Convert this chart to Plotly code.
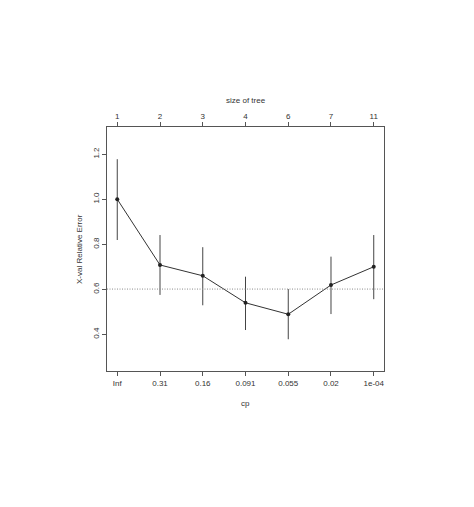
import plotly.graph_objects as go

# Data
cp_labels = ["Inf", "0.31", "0.16", "0.091", "0.055", "0.02", "1e-04"]
tree_sizes = ["1", "2", "3", "4", "6", "7", "11"]
xerror = [1.000, 0.708, 0.660, 0.540, 0.489, 0.619, 0.700]
err_upper = [1.178, 0.841, 0.787, 0.656, 0.601, 0.745, 0.841]
err_lower = [0.819, 0.575, 0.529, 0.419, 0.378, 0.490, 0.556]
min_line = 0.601
y_ticks = [0.4, 0.6, 0.8, 1.0, 1.2]

xpos = list(range(1, len(cp_labels) + 1))
plus = [u - v for u, v in zip(err_upper, xerror)]
minus = [v - l for v, l in zip(xerror, err_lower)]

font = dict(family="Liberation Sans, Arial, sans-serif", size=8, color="#333333")
axcol = "#555555"

fig = go.Figure()
fig.add_trace(go.Scatter(
    x=xpos, y=xerror, mode="lines+markers",
    line=dict(color="#333333", width=1),
    marker=dict(color="#222222", size=4),
    error_y=dict(type="data", symmetric=False, array=plus, arrayminus=minus,
                 color="#444444", thickness=1, width=0),
    showlegend=False, hoverinfo="skip",
))
fig.add_trace(go.Scatter(x=xpos, y=xerror, xaxis="x2", mode="markers",
                         marker=dict(opacity=0), showlegend=False, hoverinfo="skip"))
fig.add_hline(y=min_line, line=dict(color="#8a8a8a", width=1, dash="1px,1.5px"))

xr = [1 - 0.24, len(xpos) + 0.24]
fig.update_layout(
    width=474, height=507,
    margin=dict(l=99, r=98, t=119, b=144),
    paper_bgcolor="white", plot_bgcolor="white",
    font=font,
    xaxis=dict(range=xr, tickvals=xpos, ticktext=cp_labels, ticks="outside",
               ticklen=4, tickcolor=axcol, showline=True, linecolor=axcol,
               mirror=True, showgrid=False, zeroline=False, tickfont=font),
    xaxis2=dict(range=xr, tickvals=xpos, ticktext=tree_sizes, ticks="outside",
                ticklen=4, tickcolor=axcol, overlaying="x", side="top",
                showline=False, showgrid=False, zeroline=False, tickfont=font),
    yaxis=dict(range=[0.237, 1.321], tickvals=y_ticks,
               ticktext=[f"{v:.1f}" for v in y_ticks], ticks="outside",
               ticklen=4, tickcolor=axcol, showline=True, linecolor=axcol,
               mirror=True, showgrid=False, zeroline=False, tickangle=-90,
               tickfont=font),
    annotations=[
        dict(text="cp", xref="paper", yref="paper", x=0.5, y=0, yshift=-32,
             showarrow=False, yanchor="middle", font=font),
        dict(text="size of tree", xref="paper", yref="paper", x=0.5, y=1, yshift=27,
             showarrow=False, yanchor="middle", font=font),
        dict(text="X-val Relative Error", xref="paper", yref="paper", x=0, y=0.5,
             xshift=-28, textangle=-90, showarrow=False, xanchor="center",
             font=font),
    ],
)
fig.write_html("out.html")
